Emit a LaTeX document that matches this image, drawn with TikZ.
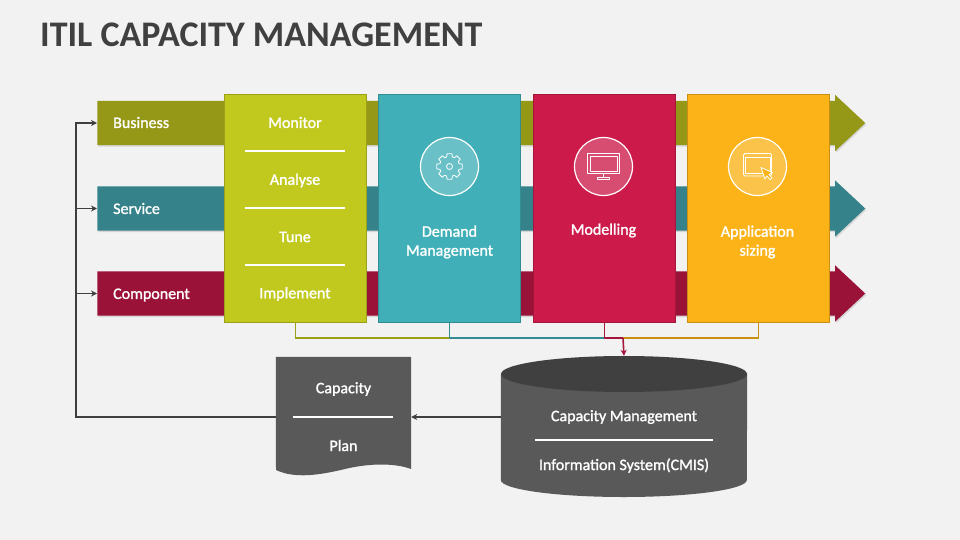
\documentclass[tikz,border=0pt]{standalone}
\usepackage{fontspec}
\setmainfont{Carlito}
\newfontfamily\cardfont[FakeBold=1.4]{Carlito}
\usetikzlibrary{arrows.meta,shapes.arrows,shadows}
\definecolor{pagebg}{HTML}{F2F2F2}
\definecolor{titlegray}{HTML}{404040}
\definecolor{darkgray}{HTML}{595959}
\definecolor{lidgray}{HTML}{404040}
\definecolor{linegray}{HTML}{3F3F3F}
\definecolor{oliveband}{HTML}{959717}
\definecolor{tealband}{HTML}{35828A}
\definecolor{wineband}{HTML}{9B1238}
\definecolor{limecard}{HTML}{C1C91F}
\definecolor{tealcard}{HTML}{41AFB8}
\definecolor{redcard}{HTML}{CC1A4A}
\definecolor{ambercard}{HTML}{FBB317}
\tikzset{
	bandarrow/.style={single arrow, single arrow head extend=6pt, single arrow tip angle=86, inner sep=0pt,
		text height=22pt, text depth=22pt, minimum height=768pt, anchor=west,
		drop shadow={shadow xshift=1pt, shadow yshift=-1.5pt, opacity=.25}},
	card/.style={draw, line width=.8pt, minimum width=142pt, minimum height=228pt, inner sep=0pt, anchor=north west},
	cardtext/.style={text=white, font=\fontsize{16}{19}\cardfont, align=center, inner sep=0pt},
	whiterule/.style={draw=white, line width=1.2pt},
	iconring/.style={circle, draw=white, line width=1.2pt, fill=white, fill opacity=.22, text opacity=1, minimum size=58pt, inner sep=0pt},
	iconline/.style={draw=white, line width=.8pt, line join=round},
	collect/.style={line width=1.6pt},
	feed/.style={draw=linegray, line width=1.6pt},
	tip/.style={-{Stealth[length=6pt,width=6pt]}}
}
\begin{document}
\begin{tikzpicture}[x=1pt, y=-1pt]
	\useasboundingbox[fill=pagebg] (0, 0) rectangle (960, 540);
	\node[anchor=west, inner sep=0pt, text=titlegray, font=\fontsize{36}{40}\selectfont\bfseries] (title) at(40, 34.5){ITIL CAPACITY MANAGEMENT};

	% bands
	\node[bandarrow, fill=oliveband] (business) at(97, 123){};
	\node[bandarrow, fill=tealband] (service) at(97, 208.5){};
	\node[bandarrow, fill=wineband] (component) at(97, 293.5){};
	\node[cardtext, anchor=west] (businesstext) at(113, 122.5){Business};
	\node[cardtext, anchor=west] (servicetext) at(113, 208.5){Service};
	\node[cardtext, anchor=west] (componenttext) at(113, 295){Component};

	% cards
	\node[card, fill=limecard, draw=limecard!80!black] (limebox) at(224, 94){};
	\node[card, fill=tealcard, draw=tealcard!80!black] (tealbox) at(378, 94){};
	\node[card, fill=redcard, draw=redcard!80!black] (redbox) at(533, 94){};
	\node[card, fill=ambercard, draw=ambercard!80!black] (amberbox) at(687, 94){};

	\node[cardtext] (monitor) at(295, 122.5){Monitor};
		\draw[whiterule] (245, 151) to (345, 151);
	\node[cardtext] (analyse) at(295, 180.5){Analyse};
		\draw[whiterule] (245, 208) to (345, 208);
	\node[cardtext] (tune) at(295, 237){Tune};
		\draw[whiterule] (245, 265) to (345, 265);
	\node[cardtext] (implement) at(295, 294){Implement};

	\node[iconring] (gearring) at(449.5, 166.5){};
	\node[iconring] (screenring) at(603.5, 166.5){};
	\node[iconring] (windowring) at(757.5, 166.5){};
	\node[cardtext] (demand) at(449.5, 242){Demand\\Management};
	\node[cardtext] (modelling) at(603.5, 230.5){Modelling};
	\node[cardtext] (sizing) at(757.5, 242){Application\\sizing};

	% gear
	\begin{scope}[shift={(449.5, 166.5)}]
		\draw[iconline] (-11:13)
			\foreach \a in {0,45,...,315}{
				-- (\a-11:13) -- (\a+11:13) -- (\a+16:10) -- (\a+29:10)
			} -- cycle;
		\draw[iconline] (0, 0) circle (3);
	\end{scope}
	% screen
	\draw[iconline] (587.5, 153.5) rectangle (619.5, 173.5);
	\draw[iconline] (590, 156) rectangle (617.5, 171);
	\draw[iconline] (603.5, 173.5) to (603.5, 177.5);
	\draw[iconline] (597.5, 177.5) rectangle (609.5, 179.5);
	% window
	\draw[iconline, rounded corners=1.5pt] (743.5, 153.5) rectangle (771.5, 176);
	\draw[iconline] (745.5, 157.5) -- (770, 157.5) -- (770, 173.5) -- (745.5, 173.5) -- cycle;
	\draw[iconline, fill=ambercard] (761, 167.5) -- (772.5, 172.5) -- (769, 174.5) -- (772, 178) -- (770, 179.5) -- (767, 176) -- (765, 179) -- cycle;

	% storage
	\node[minimum width=246pt, minimum height=141pt, inner sep=0pt] (cmis) at(624, 426.5){};
	\fill[darkgray] (cmis.west |- 0, 374) -- (cmis.west |- 0, 480) arc[start angle=180, end angle=360, x radius=123pt, y radius=17pt]
		-- (cmis.east |- 0, 374) -- cycle;
	\fill[lidgray] (624, 374) ellipse [x radius=123pt, y radius=18pt];
	\node[cardtext] (cmistop) at(624, 417){Capacity Management};
		\draw[whiterule] (535, 440) to (713, 440);
	\node[cardtext] (cmisbottom) at(624, 465.5){Information System(CMIS)};

	% plan
	\node[minimum width=135pt, minimum height=113pt, inner sep=0pt] (plan) at(343.5, 413.5){};
	\fill[darkgray] (plan.north west) -- (plan.north east) -- (411, 469) .. controls (395, 463) and (370, 463) .. (345, 469)
		.. controls (320, 475) and (295, 479) .. (276, 470) -- cycle;
	\node[cardtext] (capacity) at(343.5, 389){Capacity};
		\draw[whiterule] (293, 417) to (393, 417);
	\node[cardtext] (plantext) at(343.5, 445.5){Plan};

	% collectors
	\coordinate (merge) at(623, 338);
	\draw[collect, draw=ambercard!80!black] (amberbox.south) |- (merge);
	\draw[collect, draw=limecard!80!black] (limebox.south) |- (tealbox.south |- merge);
	\draw[collect, draw=tealcard!80!black] (tealbox.south) |- (redbox.south |- merge);
	\draw[collect, draw=redcard!80!black] (redbox.south) |- (merge);
	\draw[collect, draw=redcard!80!black, tip] (merge) -- (cmis.north);

	% feedback
	\coordinate (plancut) at(276, 417);
	\coordinate (trunktop) at(76, 123);
	\draw[feed, tip] (cmis.west |- plancut) -- (plan.east |- plancut);
	\draw[feed, tip] (plan.west |- plancut) -| (trunktop) -- (business.west);
	\draw[feed, tip] (trunktop |- service) -- (service.west);
	\draw[feed, tip] (trunktop |- component) -- (component.west);
\end{tikzpicture}
\end{document}
